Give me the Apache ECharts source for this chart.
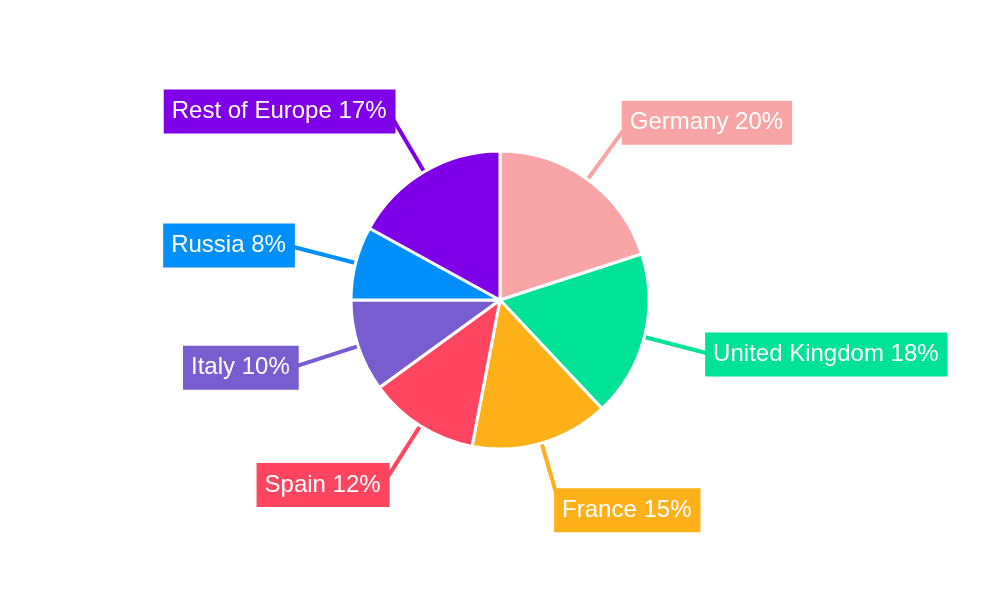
<!DOCTYPE html>
<html>
<head>
<meta charset="utf-8">
<script src="https://cdn.jsdelivr.net/npm/echarts@6/dist/echarts.min.js"></script>
<style>
  html, body { margin: 0; padding: 0; background: #fff; }
  #chart { width: 1000px; height: 600px; }
</style>
</head>
<body>
<div id="chart"></div>
<script>
// 数据
const countries = ['Germany', 'United Kingdom', 'France', 'Spain', 'Italy', 'Russia', 'Rest of Europe'];
const shares = [20, 18, 15, 12, 10, 8, 17];
const colors = ['#F9A5A5', '#00E396', '#FEB019', '#FF4560', '#775DD0', '#008FFB', '#7F00E8'];

const chart = echarts.init(document.getElementById('chart'));

const pieData = countries.map((name, i) => ({
    name: name,
    value: shares[i],
    itemStyle: { color: colors[i] },
    label: { backgroundColor: colors[i] }
}));

chart.setOption({
    animation: false,
    series: [
        {
            type: 'pie',
            center: [500, 300],
            radius: 149,
            startAngle: 90,
            clockwise: true,
            data: pieData,
            itemStyle: {
                borderColor: '#fff',
                borderWidth: 3
            },
            label: {
                show: true,
                formatter: '{b} {c}%',
                color: '#fff',
                fontFamily: 'Liberation Sans',
                fontSize: 24,
                padding: [11, 9, 9, 8],
                distanceToLabelLine: -7
            },
            labelLine: {
                show: true,
                length: 70,
                length2: 0,
                lineStyle: { width: 4 }
            }
        }
    ]
});
</script>
</body>
</html>
